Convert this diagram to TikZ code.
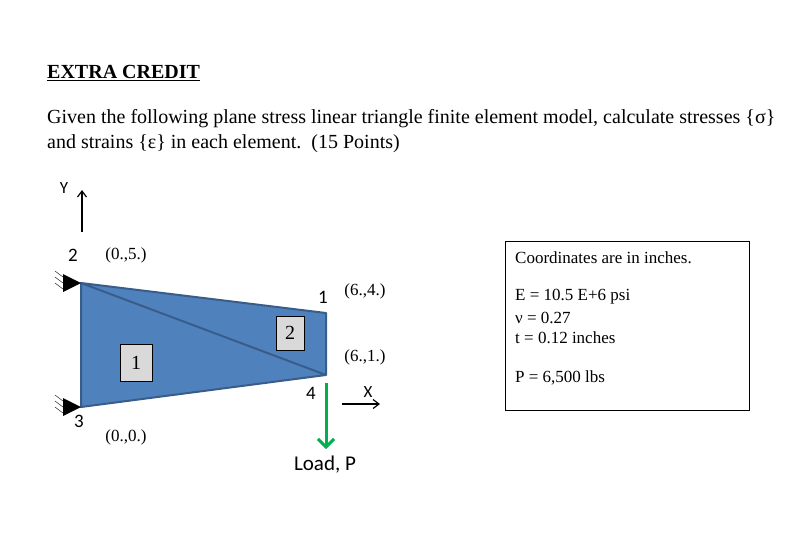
\documentclass[tikz,border=0pt]{standalone}
\usepackage{fontspec}
\setmainfont{Liberation Serif}
\newfontfamily\carfont{Carlito}
\usetikzlibrary{arrows.meta}
\definecolor{elfill}{RGB}{79,129,189}
\definecolor{eledge}{RGB}{56,93,138}
\definecolor{loadgreen}{RGB}{0,176,80}
\begin{document}
\begin{tikzpicture}[x=1pt,y=-1pt,
  txt/.style={inner sep=0pt,anchor=west,font=\fontsize{20}{24}\selectfont},
  sans/.style={inner sep=0pt,font=\carfont\fontsize{19}{22}\selectfont},
  crd/.style={inner sep=0pt,font=\fontsize{17}{20}\selectfont},
  elem/.style={draw=black,thick,fill=black!15,minimum width=32pt,minimum height=37pt,inner sep=0pt,font=\fontsize{20}{24}\selectfont},
  ax/.style={-{Straight Barb[length=6pt,width=9pt]},line width=1.2pt},
  btxt/.style={inner sep=0pt,anchor=west,font=\fontsize{17}{20}\selectfont}]
\useasboundingbox (0,0) rectangle (811,543);
\node[txt,font=\bfseries\fontsize{20}{24}\selectfont] (title) at (47,73) {\underline{EXTRA CREDIT}};
\node[txt] (l1) at (47,119) {Given the following plane stress linear triangle finite element model, calculate stresses \{σ\}};
\node[txt] (l2) at (47,144) {and strains \{ε\} in each element.\ \ (15 Points)};
\coordinate (n2) at (81,283);
\coordinate (n1) at (326,313);
\coordinate (n4) at (326,375);
\coordinate (n3) at (81,407);
\fill[elfill] (n2)--(n1)--(n4)--(n3)--cycle;
\draw[eledge,line width=2pt,line join=round] (n2)--(n1)--(n4)--(n3)--cycle (n2)--(n4);
\node[elem] (e1) at (136,363) {1};
\node[elem,minimum width=28pt,minimum height=34pt] (e2) at (290,333) {2};
\foreach \n in {n2,n3}{
  \fill ([xshift=-18pt,yshift=-9pt]\n) -- (\n) -- ([xshift=-18pt,yshift=9pt]\n) -- cycle;
  \foreach \d in {-6,0,6} \draw[thin] ([xshift=-18pt,yshift=\d pt]\n) -- ([xshift=-26pt,yshift=\d pt+6pt]\n);
}
\node[sans] (t2) at (73,255) {2};
\node[sans] (t1) at (323,297) {1};
\node[sans] (t4) at (311,393) {4};
\node[sans] (t3) at (79,421) {3};
\node[crd] (c2) at (126,255) {(0.,5.)};
\node[crd] (c1) at (365,291) {(6.,4.)};
\node[crd] (c4) at (365,357) {(6.,1.)};
\node[crd] (c3) at (126,437) {(0.,0.)};
\coordinate (ya) at (82,232); \coordinate (yb) at (82,190);
\draw[ax] (ya) -- (yb);
\node[sans,font=\carfont\fontsize{17}{20}\selectfont] (ylab) at (64,188) {Y};
\coordinate (xa) at (342,404); \coordinate (xb) at (380,404);
\draw[ax] (xa) -- (xb);
\node[sans,font=\carfont\fontsize{17}{20}\selectfont] (xlab) at (368,392) {X};
\coordinate (la) at (326,383); \coordinate (lb) at (326,449);
\draw[loadgreen,line width=3pt,-{Straight Barb[length=8pt,width=16pt,line width=3pt]}] (la) -- (lb);
\node[sans,font=\carfont\fontsize{21}{24}\selectfont] (load) at (325,465) {Load, P};
\node[draw,thin,minimum width=244pt,minimum height=169pt,anchor=north west] (box) at (505,241) {};
\node[btxt] (b1) at (515,258) {Coordinates are in inches.};
\node[btxt] (b2) at (515,297) {E = 10.5 E+6 psi};
\node[btxt] (b3) at (515,318) {ν = 0.27};
\node[btxt] (b4) at (515,338) {t = 0.12 inches};
\node[btxt] (b5) at (515,378) {P = 6,500 lbs};
\end{tikzpicture}
\end{document}
